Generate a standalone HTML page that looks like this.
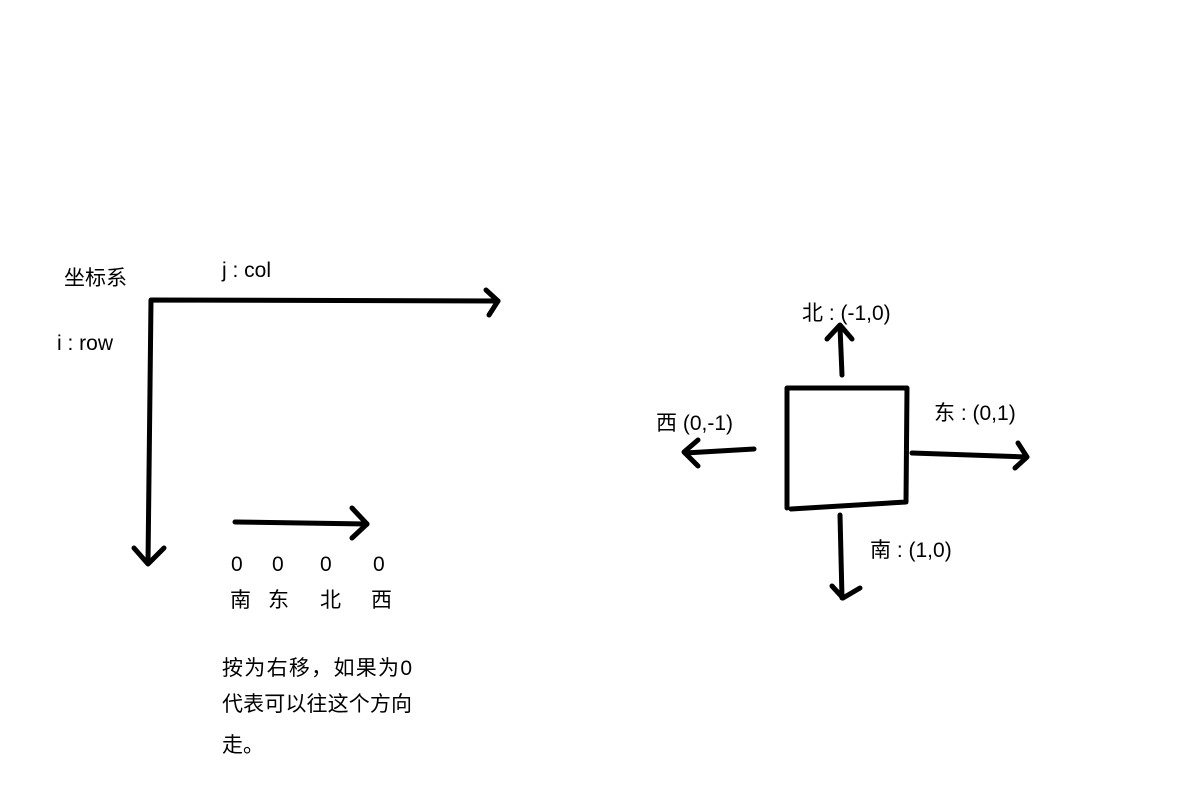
<!DOCTYPE html>
<html><head><meta charset="utf-8"><style>
html,body{margin:0;padding:0;background:#fff;}
svg{display:block}
text{font-family:"Liberation Sans","Microsoft YaHei","Noto Sans CJK SC",sans-serif;font-size:21px;fill:#000}
</style></head><body>
<svg width="1200" height="785" viewBox="0 0 1200 785" xmlns="http://www.w3.org/2000/svg">
<g stroke="#000" stroke-width="5" fill="none" stroke-linecap="round" stroke-linejoin="round">
<polyline points="148,563 151,300 498,301"/>
<polyline points="486,290 498,301 489,315"/>
<polyline points="134,548 148,564 164,548"/>
<line x1="235" y1="522" x2="367" y2="524"/>
<polyline points="352,508 367,524 352,538"/>
<polyline points="787,508 787,388 907,388 906,502 791,509"/>
<line x1="842" y1="375" x2="840" y2="327"/>
<polyline points="827,339 840,325 852,339"/>
<line x1="754" y1="449" x2="685" y2="453"/>
<polyline points="698,440 684,452 698,466"/>
<line x1="912" y1="453" x2="1026" y2="457"/>
<polyline points="1018,443 1027,457 1015,468"/>
<line x1="840" y1="515" x2="842" y2="598"/>
<polyline points="832,586 843,598 860,588"/>
</g>
<text x="64" y="285">坐标系</text>
<text x="222" y="277">j : col</text>
<text x="57" y="350">i : row</text>
<text x="231" y="571">0</text>
<text x="272" y="571">0</text>
<text x="320" y="571">0</text>
<text x="373" y="571">0</text>
<text x="230" y="607">南</text>
<text x="268" y="607">东</text>
<text x="320" y="607">北</text>
<text x="371" y="607">西</text>
<text x="222" y="675" textLength="190" lengthAdjust="spacing">按为右移，如果为0</text>
<text x="222" y="711" textLength="190" lengthAdjust="spacing">代表可以往这个方向</text>
<text x="222" y="752">走。</text>
<text x="802" y="320">北 : (-1,0)</text>
<text x="656" y="430">西 (0,-1)</text>
<text x="934" y="420">东 : (0,1)</text>
<text x="870" y="557">南 : (1,0)</text>
</svg>
</body></html>
